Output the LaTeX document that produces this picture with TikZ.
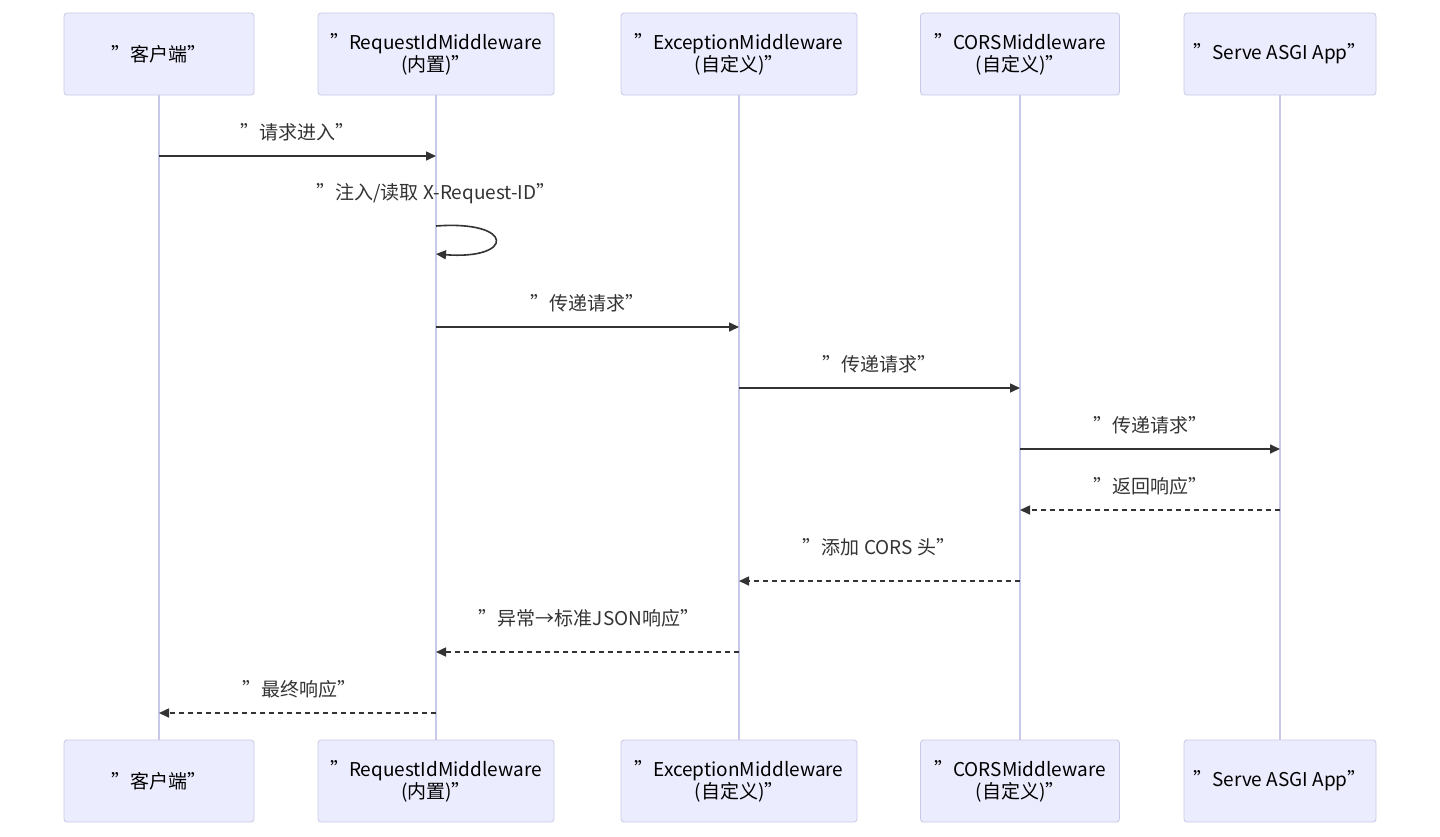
\documentclass[tikz,border=0pt]{standalone}
\usepackage{fontspec}
\setmainfont{Noto Sans CJK SC}
\usetikzlibrary{arrows.meta}
\definecolor{actfill}{HTML}{ECECFF}
\definecolor{actline}{HTML}{C8C8E8}
\definecolor{msgcol}{HTML}{333333}
\tikzset{
  actor/.style={draw=actline, fill=actfill, rounded corners=1.5pt, minimum height=41pt, align=center, font=\fontsize{9.5}{11}\selectfont, inner sep=1pt},
  life/.style={draw=actline, line width=1.1pt},
  msg/.style={draw=msgcol, line width=0.8pt, -{Triangle[length=5pt,width=4.5pt]}},
  reply/.style={msg, dashed, dash pattern=on 2.5pt off 2pt},
  lbl/.style={font=\fontsize{9.5}{11}\selectfont, text=msgcol}
}
\begin{document}
\begin{tikzpicture}[x=0.5pt,y=-0.5pt]
        \useasboundingbox (0,0) rectangle (1440,836);

        % lifelines
        \draw[life] (159,95) -- (159,740);
        \draw[life] (436,95) -- (436,740);
        \draw[life] (739,95) -- (739,740);
        \draw[life] (1020,95) -- (1020,740);
        \draw[life] (1280,95) -- (1280,740);

        % actors top
        \node [actor, minimum width=95pt] (a1) at (159,54) {"客户端"};
        \node [actor, minimum width=118pt] (a2) at (436,54) {"RequestIdMiddleware\\(内置)"};
        \node [actor, minimum width=118pt] (a3) at (739,54) {"ExceptionMiddleware\\(自定义)"};
        \node [actor, minimum width=99.5pt] (a4) at (1020,54) {"CORSMiddleware\\(自定义)"};
        \node [actor, minimum width=96pt] (a5) at (1280,54) {"Serve ASGI App"};

        % actors bottom
        \node [actor, minimum width=95pt] (b1) at (159,781) {"客户端"};
        \node [actor, minimum width=118pt] (b2) at (436,781) {"RequestIdMiddleware\\(内置)"};
        \node [actor, minimum width=118pt] (b3) at (739,781) {"ExceptionMiddleware\\(自定义)"};
        \node [actor, minimum width=99.5pt] (b4) at (1020,781) {"CORSMiddleware\\(自定义)"};
        \node [actor, minimum width=96pt] (b5) at (1280,781) {"Serve ASGI App"};

        % message points
        \coordinate (m1s) at (159,156);  \coordinate (m1e) at (436,156);
        \coordinate (m2s) at (436,226);  \coordinate (m2e) at (436,254);
        \coordinate (m3s) at (436,327);  \coordinate (m3e) at (739,327);
        \coordinate (m4s) at (739,388);  \coordinate (m4e) at (1020,388);
        \coordinate (m5s) at (1020,449); \coordinate (m5e) at (1280,449);
        \coordinate (m6s) at (1280,510); \coordinate (m6e) at (1020,510);
        \coordinate (m7s) at (1020,581); \coordinate (m7e) at (739,581);
        \coordinate (m8s) at (739,652);  \coordinate (m8e) at (436,652);
        \coordinate (m9s) at (436,713);  \coordinate (m9e) at (159,713);

        % messages
        \draw[msg] (m1s) -- (m1e);
        \node [lbl] (l1) at (297,132) {"请求进入"};
        \draw[msg] (m2s) .. controls (515,220) and (515,260) .. (m2e);
        \node [lbl] (l2) at (436,194) {"注入/读取 X-Request-ID"};
        \draw[msg] (m3s) -- (m3e);
        \node [lbl] (l3) at (587,303) {"传递请求"};
        \draw[msg] (m4s) -- (m4e);
        \node [lbl] (l4) at (879,364) {"传递请求"};
        \draw[msg] (m5s) -- (m5e);
        \node [lbl] (l5) at (1150,425) {"传递请求"};
        \draw[reply] (m6s) -- (m6e);
        \node [lbl] (l6) at (1150,486) {"返回响应"};
        \draw[reply] (m7s) -- (m7e);
        \node [lbl] (l7) at (879,547) {"添加 CORS 头"};
        \draw[reply] (m8s) -- (m8e);
        \node [lbl] (l8) at (589,618) {"异常→标准JSON响应"};
        \draw[reply] (m9s) -- (m9e);
        \node [lbl] (l9) at (299,689) {"最终响应"};
\end{tikzpicture}
\end{document}
